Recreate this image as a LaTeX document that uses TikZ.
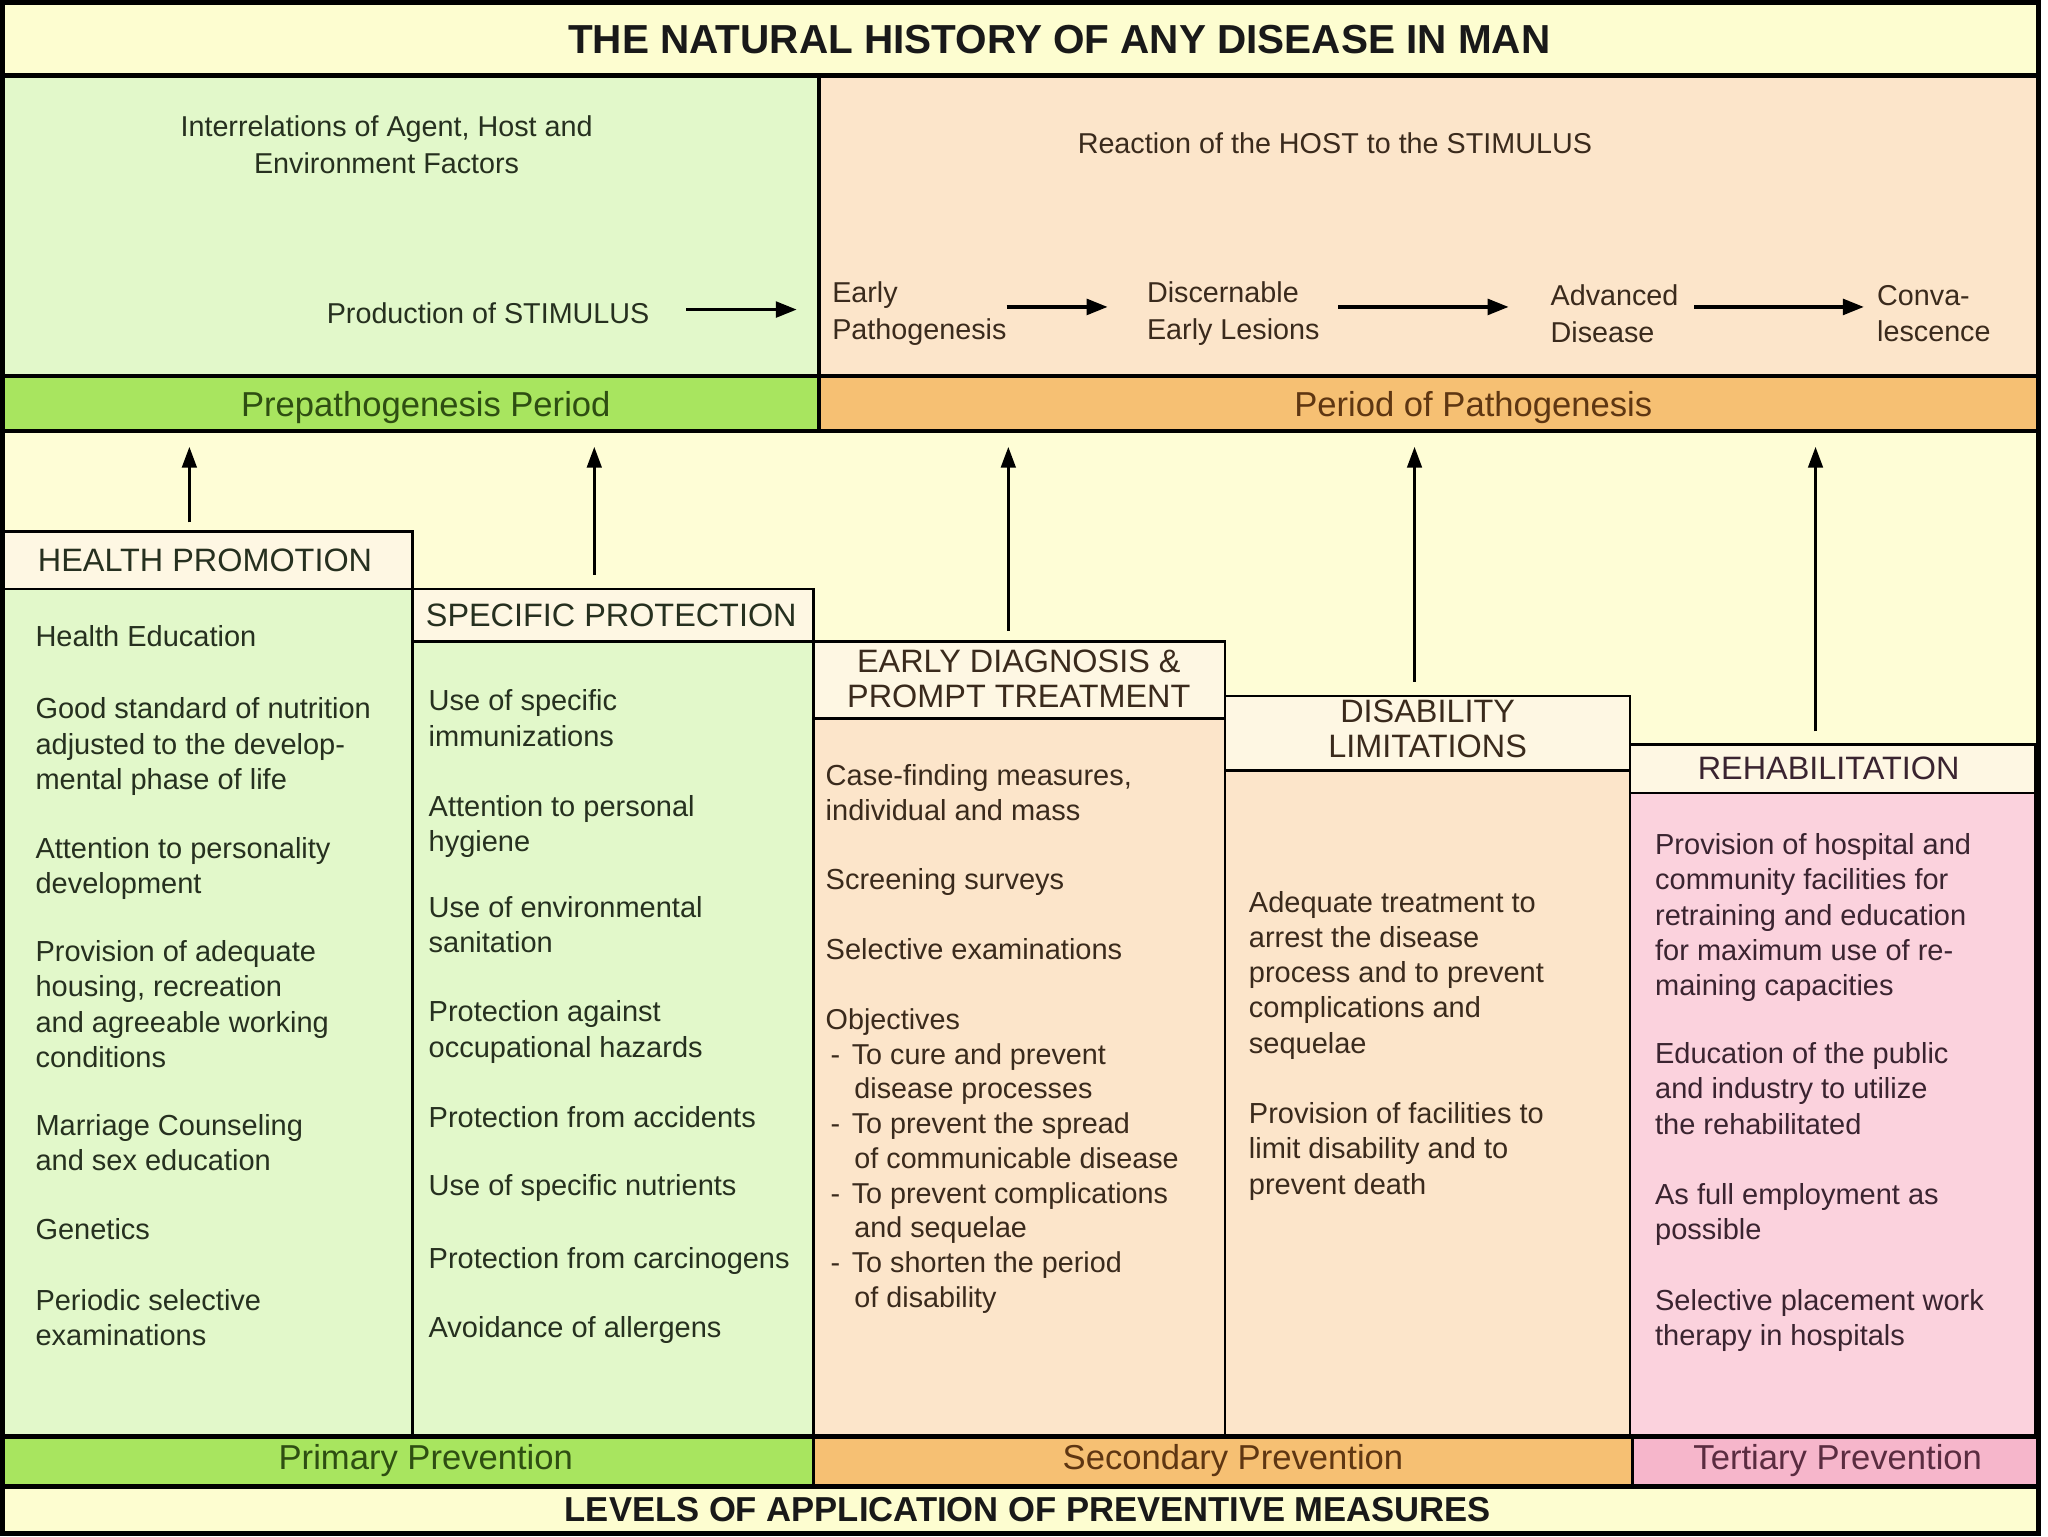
\documentclass[tikz,border=0pt]{standalone}
\usepackage{fontspec}
\setmainfont{Liberation Sans}
\usetikzlibrary{arrows.meta}
\definecolor{titley}{HTML}{FDFDD0}
\definecolor{bgy}{HTML}{FEFDD6}
\definecolor{lgreen}{HTML}{E2F8CA}
\definecolor{lpeach}{HTML}{FCE5CA}
\definecolor{bgreen}{HTML}{A8E55F}
\definecolor{borange}{HTML}{F6C073}
\definecolor{lpink}{HTML}{FBD2DD}
\definecolor{bpink}{HTML}{F6B6CB}
\definecolor{hdrfill}{HTML}{FEF7E3}
\definecolor{txtg}{HTML}{26301F}
\definecolor{txtb}{HTML}{3A2A1C}
\definecolor{txtp}{HTML}{3A2430}
\definecolor{bandg}{HTML}{2E4E12}
\definecolor{bando}{HTML}{5E3612}
\definecolor{bandp}{HTML}{5A2C40}
\tikzset{
  bodytext/.style={font=\fontsize{22.2}{27}\selectfont, align=left, anchor=north west, inner sep=0pt},
  hdrtext/.style={font=\fontsize{24.8}{27}\selectfont, align=center, inner sep=0pt},
  toptext/.style={font=\fontsize{22}{28}\selectfont, text=txtg, inner sep=0pt},
  bandtext/.style={font=\fontsize{26.5}{28}\selectfont, inner sep=0pt},
  bigtitle/.style={font=\bfseries\fontsize{31}{33}\selectfont, inner sep=0pt, text=black!90},
  colline/.style={draw=black, line width=2pt},
  bandline/.style={draw=black, line width=3.5pt},
  uparr/.style={line width=2.6pt, -{Triangle[length=16pt,width=11pt]}},
  sidearr/.style={line width=2.6pt, -{Triangle[length=16pt,width=12pt]}},
}
\begin{document}
\begin{tikzpicture}[x=1pt,y=-1pt]
\useasboundingbox (0,0) rectangle (1568,1176);
\fill[white] (0,0) rectangle (1568,1176);
% panels
\fill[titley] (2,2) rectangle (1560,58);
\fill[lgreen] (2,58) rectangle (627,288);
\fill[lpeach] (627,58) rectangle (1560,288);
\fill[bgreen] (2,288) rectangle (627,330);
\fill[borange] (627,288) rectangle (1560,330);
\fill[bgy] (2,330) rectangle (1560,1100);
% columns
\filldraw[colline, fill=hdrfill] (2,407) rectangle (316,451);
\filldraw[colline, fill=lgreen] (2,451) rectangle (316,1100);
\filldraw[colline, fill=hdrfill] (316,451) rectangle (623,491);
\filldraw[colline, fill=lgreen] (316,491) rectangle (623,1100);
\filldraw[colline, fill=hdrfill] (623,491) rectangle (938,550);
\filldraw[colline, fill=lpeach] (623,550) rectangle (938,1100);
\filldraw[colline, fill=hdrfill] (938,533) rectangle (1248,590);
\filldraw[colline, fill=lpeach] (938,590) rectangle (1248,1100);
\filldraw[colline, fill=hdrfill] (1248,570) rectangle (1558,607);
\filldraw[colline, fill=lpink] (1248,607) rectangle (1558,1100);
% bottom bands
\fill[bgreen] (2,1100) rectangle (623,1138);
\fill[borange] (623,1100) rectangle (1250,1138);
\fill[bpink] (1250,1100) rectangle (1560,1138);
\fill[titley] (2,1138) rectangle (1560,1174);
% lines
\draw[bandline] (2,58) -- (1560,58);
\draw[bandline] (2,288) -- (1560,288);
\draw[bandline] (2,330) -- (1560,330);
\draw[bandline] (2,1100) -- (1560,1100);
\draw[bandline] (2,1138) -- (1560,1138);
\draw[colline, line width=2.6pt] (627,58) -- (627,330);
\draw[colline] (623,1100) -- (623,1138);
\draw[colline] (1250,1100) -- (1250,1138);
\draw[line width=4pt] (2,2) rectangle (1561,1174);

% titles
\node[bigtitle] (title) at (811,30) {THE NATURAL HISTORY OF ANY DISEASE IN MAN};
\node[bigtitle, font=\bfseries\fontsize{26.5}{28}\selectfont] (levels) at (787,1156) {LEVELS OF APPLICATION OF PREVENTIVE MEASURES};

% top texts
\node[toptext, align=center] (inter) at (296,111) {Interrelations of Agent, Host and\\Environment Factors};
\node[toptext, text=txtb] (reac) at (1022,110) {Reaction of the HOST to the STIMULUS};
\node[toptext, anchor=west] (prod) at (250,240) {Production of STIMULUS};
\node[toptext, text=txtb, anchor=west, align=left] (early) at (637,240) {Early\\Pathogenesis};
\node[toptext, text=txtb, anchor=west, align=left] (disc) at (878,240) {Discernable\\Early Lesions};
\node[toptext, text=txtb, anchor=west, align=left] (adv) at (1187,240) {Advanced\\Disease};
\node[toptext, text=txtb, anchor=west, align=left] (conv) at (1437,240) {Conva-\\lescence};
\draw[sidearr, shorten <=28pt, shorten >=27pt] (prod.east) ++(0,-3) coordinate (p0) -- (p0 -| early.west);
\draw[sidearr, shorten <=0pt, shorten >=30pt] ([yshift=5pt]early.east) -- ([yshift=5pt]early.east -| disc.west);
\draw[sidearr, shorten <=14pt, shorten >=32pt] ([yshift=5pt]disc.east) -- ([yshift=5pt]disc.east -| adv.west);
\draw[sidearr, shorten <=12pt, shorten >=10pt] ([yshift=5pt]adv.east) -- ([yshift=5pt]adv.east -| conv.west);

% band texts
\node[bandtext, text=bandg] (prep) at (326,312) {Prepathogenesis Period};
\node[bandtext, text=bando] (path) at (1128,312) {Period of Pathogenesis};
\node[bandtext, text=bandg] (prim) at (326,1118) {Primary Prevention};
\node[bandtext, text=bando] (sec) at (944,1118) {Secondary Prevention};
\node[bandtext, text=bandp] (ter) at (1407,1118) {Tertiary Prevention};

% headers
\node[hdrtext, text=txtg] (hpH) at (157,429) {HEALTH PROMOTION};
\node[hdrtext, text=txtg] (spH) at (468,471) {SPECIFIC PROTECTION};
\node[hdrtext, text=txtb] (edH) at (780,520) {EARLY DIAGNOSIS \&\\PROMPT TREATMENT};
\node[hdrtext, text=txtb] (dlH) at (1093,558) {DISABILITY\\LIMITATIONS};
\node[hdrtext, text=txtp] (rhH) at (1400,588) {REHABILITATION};

% up arrows
\coordinate (t1) at (145,342);
\coordinate (t2) at (455,342);
\coordinate (t3) at (772,342);
\coordinate (t4) at (1083,342);
\coordinate (t5) at (1390,342);
\coordinate (s1) at (145,400);
\coordinate (s2) at (455,440);
\coordinate (s3) at (772,483);
\coordinate (s4) at (1083,522);
\coordinate (s5) at (1390,560);
\draw[uparr] (s1) -- (t1);
\draw[uparr] (s2) -- (t2);
\draw[uparr] (s3) -- (t3);
\draw[uparr] (s4) -- (t4);
\draw[uparr] (s5) -- (t5);

% column 1
\begin{scope}[every node/.style={bodytext, text=txtg}]
\node (hp1) at (27,479) {Health Education};
\node (hp2) at (27,534) {Good standard of nutrition\\adjusted to the develop-\\mental phase of life};
\node (hp3) at (27,641) {Attention to personality\\development};
\node (hp4) at (27,720) {Provision of adequate\\housing, recreation\\and agreeable working\\conditions};
\node (hp5) at (27,853) {Marriage Counseling\\and sex education};
\node (hp6) at (27,933) {Genetics};
\node (hp7) at (27,987) {Periodic selective\\examinations};
% column 2
\node (sp1) at (328,528) {Use of specific\\immunizations};
\node (sp2) at (328,609) {Attention to personal\\hygiene};
\node (sp3) at (328,686) {Use of environmental\\sanitation};
\node (sp4) at (328,766) {Protection against\\occupational hazards};
\node (sp5) at (328,847) {Protection from accidents};
\node (sp6) at (328,899) {Use of specific nutrients};
\node (sp7) at (328,955) {Protection from carcinogens};
\node (sp8) at (328,1008) {Avoidance of allergens};
\end{scope}
% column 3
\begin{scope}[every node/.style={bodytext, text=txtb}]
\node (ed1) at (632,585) {Case-finding measures,\\individual and mass};
\node (ed2) at (632,665) {Screening surveys};
\node (ed3) at (632,718) {Selective examinations};
\node[font=\fontsize{22}{26.6}\selectfont] (ed4) at (632,772) {Objectives\\
\makebox[20pt][l]{\,-}To cure and prevent\\
\hspace*{22pt}disease processes\\
\makebox[20pt][l]{\,-}To prevent the spread\\
\hspace*{22pt}of communicable disease\\
\makebox[20pt][l]{\,-}To prevent complications\\
\hspace*{22pt}and sequelae\\
\makebox[20pt][l]{\,-}To shorten the period\\
\hspace*{22pt}of disability};
% column 4
\node (dl1) at (956,682) {Adequate treatment to\\arrest the disease\\process and to prevent\\complications and\\sequelae};
\node (dl2) at (956,844) {Provision of facilities to\\limit disability and to\\prevent death};
\end{scope}
% column 5
\begin{scope}[every node/.style={bodytext, text=txtp}]
\node (rh1) at (1267,638) {Provision of hospital and\\community facilities for\\retraining and education\\for maximum use of re-\\maining capacities};
\node (rh2) at (1267,798) {Education of the public\\and industry to utilize\\the rehabilitated};
\node (rh3) at (1267,906) {As full employment as\\possible};
\node (rh4) at (1267,987) {Selective placement work\\therapy in hospitals};
\end{scope}
\end{tikzpicture}
\end{document}
